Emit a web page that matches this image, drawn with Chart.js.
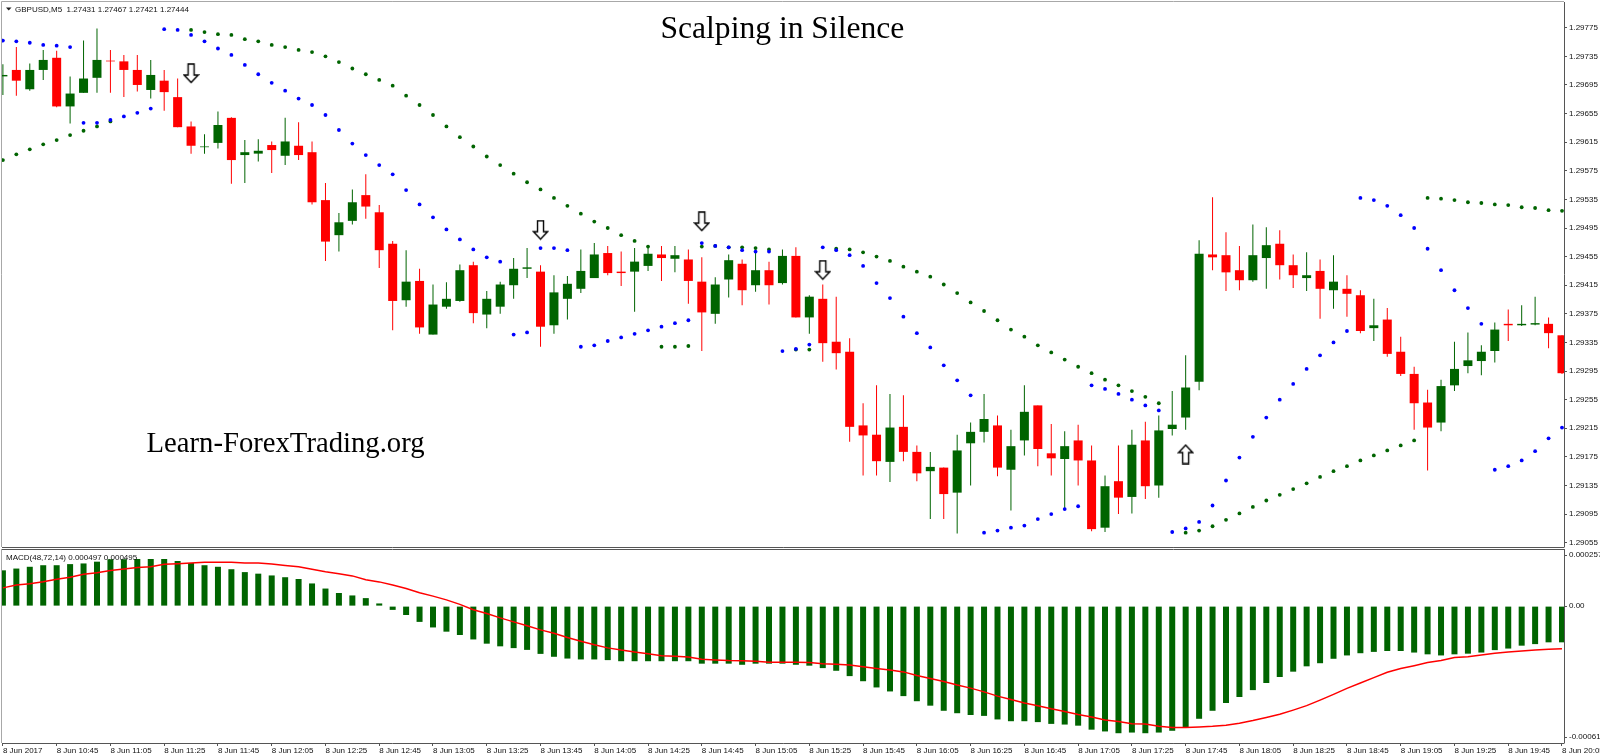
<!DOCTYPE html>
<html>
<head>
<meta charset="utf-8">
<title>Scalping in Silence</title>
<script src="https://cdn.jsdelivr.net/npm/chart.js@4/dist/chart.umd.min.js"></script>
<style>
html, body { margin: 0; padding: 0; background: #fff; overflow: hidden; }
canvas { position: absolute; left: 0; display: block; }
#priceChart { top: 0; }
#macdChart { top: 549px; }
</style>
</head>
<body>
<canvas id="priceChart" width="1600" height="549"></canvas>
<canvas id="macdChart" width="1600" height="204"></canvas>
<script>
// GBPUSD M5 candles, one entry per 5 minute bar
var opens = [
1.29707,1.29716,1.29689,1.29716,1.29733,1.29665,1.29684,1.29705,1.29729,1.29728,
1.29716,1.29688,1.29701,1.29678,1.29637,1.29608,1.29614,1.29649,1.29597,1.29599,
1.29611,1.29596,1.29610,1.29601,1.29534,1.29485,1.29505,1.29541,1.29517,1.29473,
1.29394,1.29421,1.29346,1.29385,1.29393,1.29443,1.29374,1.29385,1.29415,1.29438,
1.29434,1.29359,1.29396,1.29410,1.29425,1.29460,1.29434,1.29434,1.29442,1.29458,
1.29452,1.29451,1.29420,1.29375,1.29423,1.29445,1.29415,1.29436,1.29418,1.29456,
1.29370,1.29396,1.29336,1.29322,1.29219,1.29206,1.29168,1.29217,1.29182,1.29155,
1.29160,1.29125,1.29194,1.29210,1.29219,1.29157,1.29198,1.29247,1.29180,1.29172,
1.29198,1.29170,1.29076,1.29141,1.29119,1.29198,1.29135,1.29214,1.29230,1.29280,
1.29458,1.29457,1.29436,1.29422,1.29453,1.29473,1.29443,1.29425,1.29435,1.29408,
1.29410,1.29401,1.29355,1.29367,1.29322,1.29291,1.29251,1.29223,1.29275,1.29302,
1.29309,1.29323,1.29361,1.29359,1.29360,1.29361,1.29345];
var closes = [
1.29709,1.29701,1.29716,1.29730,1.29665,1.29683,1.29704,1.29730,1.29728,1.29716,
1.29695,1.29709,1.29685,1.29636,1.29610,1.29609,1.29639,1.29590,1.29601,1.29603,
1.29604,1.29616,1.29597,1.29531,1.29476,1.29503,1.29531,1.29525,1.29464,1.29393,
1.29420,1.29356,1.29388,1.29396,1.29436,1.29376,1.29396,1.29416,1.29438,1.29440,
1.29357,1.29405,1.29417,1.29435,1.29458,1.29432,1.29432,1.29448,1.29459,1.29453,
1.29457,1.29421,1.29377,1.29416,1.29450,1.29408,1.29436,1.29415,1.29456,1.29370,
1.29399,1.29334,1.29320,1.29217,1.29205,1.29169,1.29216,1.29182,1.29152,1.29161,
1.29123,1.29184,1.29210,1.29228,1.29160,1.29190,1.29238,1.29186,1.29173,1.29190,
1.29170,1.29074,1.29134,1.29118,1.29192,1.29134,1.29212,1.29220,1.29272,1.29459,
1.29454,1.29433,1.29422,1.29457,1.29471,1.29443,1.29429,1.29429,1.29410,1.29420,
1.29403,1.29351,1.29359,1.29319,1.29291,1.29250,1.29216,1.29274,1.29298,1.29310,
1.29322,1.29353,1.29359,1.29361,1.29362,1.29348,1.29292];
var highs = [
1.29724,1.29748,1.29725,1.29744,1.29743,1.29707,1.29757,1.29774,1.29744,1.29737,
1.29737,1.29730,1.29716,1.29704,1.29644,1.29626,1.29658,1.29650,1.29618,1.29619,
1.29616,1.29649,1.29643,1.29616,1.29558,1.29516,1.29549,1.29570,1.29527,1.29477,
1.29464,1.29438,1.29416,1.29419,1.29444,1.29448,1.29407,1.29420,1.29453,1.29467,
1.29443,1.29429,1.29428,1.29465,1.29474,1.29470,1.29462,1.29467,1.29471,1.29470,
1.29470,1.29465,1.29454,1.29426,1.29458,1.29451,1.29465,1.29448,1.29465,1.29468,
1.29401,1.29416,1.29399,1.29341,1.29250,1.29275,1.29263,1.29261,1.29191,1.29182,
1.29160,1.29206,1.29223,1.29263,1.29233,1.29213,1.29275,1.29247,1.29221,1.29211,
1.29220,1.29191,1.29149,1.29191,1.29213,1.29224,1.29233,1.29267,1.29317,1.29478,
1.29538,1.29489,1.29470,1.29500,1.29496,1.29492,1.29458,1.29461,1.29451,1.29457,
1.29429,1.29408,1.29396,1.29383,1.29343,1.29301,1.29269,1.29283,1.29336,1.29349,
1.29331,1.29363,1.29381,1.29387,1.29399,1.29370,1.29345];
var lows = [
1.29681,1.29680,1.29687,1.29702,1.29664,1.29641,1.29684,1.29684,1.29684,1.29678,
1.29686,1.29676,1.29659,1.29636,1.29599,1.29599,1.29606,1.29557,1.29558,1.29588,
1.29572,1.29583,1.29590,1.29528,1.29449,1.29462,1.29500,1.29508,1.29439,1.29352,
1.29385,1.29347,1.29346,1.29382,1.29392,1.29362,1.29355,1.29375,1.29396,1.29425,
1.29329,1.29347,1.29367,1.29404,1.29425,1.29429,1.29414,1.29378,1.29435,1.29421,
1.29433,1.29389,1.29323,1.29361,1.29398,1.29387,1.29406,1.29388,1.29416,1.29370,
1.29347,1.29308,1.29297,1.29196,1.29149,1.29149,1.29140,1.29169,1.29141,1.29088,
1.29088,1.29068,1.29135,1.29195,1.29148,1.29100,1.29177,1.29162,1.29149,1.29102,
1.29135,1.29071,1.29070,1.29095,1.29096,1.29116,1.29118,1.29205,1.29213,1.29268,
1.29436,1.29407,1.29408,1.29420,1.29410,1.29423,1.29411,1.29407,1.29368,1.29382,
1.29371,1.29348,1.29337,1.29315,1.29288,1.29213,1.29156,1.29211,1.29267,1.29292,
1.29289,1.29307,1.29337,1.29358,1.29359,1.29327,1.29291];

// indicator dots above / below price
var greenDots = [
1.29590,1.29598,1.29605,1.29612,1.29618,1.29625,1.29631,1.29637,1.29644,null,
null,null,null,null,1.29772,1.29769,1.29766,1.29765,1.29759,1.29756,
1.29751,1.29748,1.29744,1.29741,1.29735,1.29727,1.29718,1.29710,1.29702,1.29694,
1.29680,1.29667,1.29653,1.29637,1.29622,1.29609,1.29595,1.29583,1.29571,1.29559,
1.29549,1.29537,1.29526,1.29515,1.29504,1.29495,1.29485,1.29477,1.29469,1.29329,
1.29329,1.29330,1.29469,1.29470,1.29468,1.29468,1.29467,1.29465,null,1.29325,
1.29325,null,1.29466,1.29465,1.29461,1.29455,1.29449,1.29441,1.29434,1.29427,
1.29416,1.29404,1.29391,1.29379,1.29366,1.29353,1.29343,1.29331,1.29321,1.29311,
1.29301,1.29292,1.29283,1.29275,1.29267,1.29259,1.29250,null,1.29069,1.29072,
1.29078,1.29087,1.29096,1.29105,1.29114,1.29122,1.29130,1.29138,1.29147,1.29155,
1.29162,1.29170,1.29177,1.29184,1.29191,1.29198,1.29537,1.29536,1.29534,1.29531,
1.29530,1.29528,1.29527,1.29524,1.29523,1.29520,1.29519];
var blueDots = [
1.29757,1.29756,1.29754,1.29751,1.29750,1.29748,1.29642,1.29642,1.29646,1.29651,
1.29656,1.29662,1.29773,1.29772,1.29765,1.29756,1.29746,1.29737,1.29723,1.29710,
1.29698,1.29687,1.29676,1.29667,1.29653,1.29632,1.29613,1.29597,1.29583,1.29570,
1.29548,1.29528,1.29510,1.29493,1.29479,1.29465,1.29454,1.29448,1.29346,1.29349,
1.29467,1.29467,1.29464,1.29329,1.29331,1.29337,1.29342,1.29347,1.29352,1.29357,
1.29362,1.29366,1.29474,1.29470,1.29468,1.29464,1.29462,1.29462,1.29323,1.29326,
1.29332,1.29468,1.29464,1.29457,1.29442,1.29418,1.29397,1.29371,1.29348,1.29328,
1.29303,1.29282,1.29261,1.29069,1.29072,1.29076,1.29079,1.29088,1.29095,1.29102,
1.29106,1.29275,1.29270,1.29263,1.29255,1.29247,1.29240,1.29070,1.29075,1.29084,
1.29107,1.29142,1.29174,1.29203,1.29230,1.29255,1.29277,1.29298,1.29317,1.29335,
1.29351,1.29537,1.29534,1.29526,1.29513,1.29495,1.29466,1.29436,1.29408,1.29383,
1.29361,1.29157,1.29162,1.29170,1.29183,1.29201,1.29216];

// hollow signal arrows: bar index and price
var downArrowBars = [14, 40, 52, 61];
var downArrowPrices = [1.29711, 1.29492, 1.29504, 1.29436];
var upArrowBars = [88];
var upArrowPrices = [1.29179];

// MACD(48,72,14) in millionths
var macdBars = [
161,169,177,184,184,189,192,200,211,211,
212,212,212,203,194,184,177,166,153,146,
138,130,122,102,79,59,48,36,12,-17,
-40,-71,-96,-115,-130,-150,-169,-181,-189,-197,
-215,-228,-236,-240,-240,-243,-248,-248,-248,-248,
-248,-248,-259,-259,-259,-264,-259,-259,-259,-264,
-268,-279,-291,-315,-338,-366,-384,-405,-428,-448,
-471,-482,-490,-494,-510,-518,-518,-522,-530,-533,
-538,-556,-564,-572,-569,-572,-569,-561,-546,-507,
-471,-436,-409,-378,-346,-319,-295,-271,-257,-237,
-222,-212,-206,-202,-202,-209,-217,-222,-217,-214,
-209,-198,-191,-178,-171,-163,-163];
var macdSignal = [
82,95,101,110,121,130,143,150,160,167,
174,177,188,191,194,197,197,197,194,194,
189,183,177,166,155,146,136,119,109,95,
79,60,45,28,8,-16,-33,-53,-71,-88,
-107,-122,-141,-158,-174,-188,-198,-206,-214,-223,
-226,-229,-239,-242,-245,-246,-248,-253,-253,-253,
-254,-259,-262,-265,-273,-281,-288,-296,-312,-326,
-339,-355,-369,-386,-405,-420,-436,-448,-462,-474,
-488,-499,-512,-519,-529,-530,-541,-546,-546,-544,
-541,-536,-527,-515,-501,-487,-468,-448,-423,-397,
-370,-346,-322,-298,-281,-268,-254,-245,-231,-228,
-220,-212,-206,-202,-197,-194,-192];

// axis labels
var priceTicks = [1.29775,1.29735,1.29695,1.29655,1.29615,1.29575,1.29535,1.29495,1.29455,
    1.29415,1.29375,1.29335,1.29295,1.29255,1.29215,1.29175,1.29135,1.29095,1.29055];
var macdTickValues = [230, 0, -589];
var macdTickLabels = ['0.000257', '0.00', '-0.000616'];
var timeLabels = ['8 Jun 2017','8 Jun 10:45','8 Jun 11:05','8 Jun 11:25','8 Jun 11:45','8 Jun 12:05',
    '8 Jun 12:25','8 Jun 12:45','8 Jun 13:05','8 Jun 13:25','8 Jun 13:45','8 Jun 14:05','8 Jun 14:25',
    '8 Jun 14:45','8 Jun 15:05','8 Jun 15:25','8 Jun 15:45','8 Jun 16:05','8 Jun 16:25','8 Jun 16:45',
    '8 Jun 17:05','8 Jun 17:25','8 Jun 17:45','8 Jun 18:05','8 Jun 18:25','8 Jun 18:45','8 Jun 19:05',
    '8 Jun 19:25','8 Jun 19:45','8 Jun 20:05'];
var barsPerLabel = 4;

var RED = '#ff0000';
var GREEN = '#006400';
var BLUE = '#0000ff';
var AXIS = '#555555';
var TEXT = '#111111';
var TICK_FONT = { family: 'Liberation Sans', size: 8 };
var X_MIN = -0.067;
var X_MAX = 116.149;

function toPoints(values) {
    var out = [];
    for (var i = 0; i < values.length; i++) {
        if (values[i] !== null) out.push({ x: i, y: values[i] });
    }
    return out;
}

function candleColors() {
    return opens.map(function(o, i) { return closes[i] >= o ? GREEN : RED; });
}

function makeArrow(up) {
    var c = document.createElement('canvas');
    c.width = 17;
    c.height = 21;
    var g = c.getContext('2d');
    g.translate(0, up ? 21 : 0);
    g.scale(1, up ? -1 : 1);
    g.beginPath();
    g.moveTo(5.5, 1);
    g.lineTo(11.5, 1);
    g.lineTo(11.5, 12);
    g.lineTo(15.5, 12);
    g.lineTo(8.5, 19.5);
    g.lineTo(1.5, 12);
    g.lineTo(5.5, 12);
    g.closePath();
    g.fillStyle = '#fff';
    g.fill();
    g.lineWidth = 1.4;
    g.strokeStyle = '#000';
    g.stroke();
    return c;
}

// no room kept for half a label at the ends of an axis
function fixY(scale) {
    scale.width = 36;
    scale.paddingTop = 0;
    scale.paddingBottom = 0;
}
function fixX(scale) {
    scale.height = 10;
    scale.paddingLeft = 0;
    scale.paddingRight = 0;
}

// gray frame around the plot, the way the terminal draws it
var framePlugin = {
    id: 'frame',
    afterDraw: function(chart, args, opts) {
        var a = chart.chartArea, ctx = chart.ctx;
        ctx.save();
        ctx.lineWidth = 1;
        ctx.strokeStyle = opts.light;
        ctx.beginPath();
        ctx.moveTo(a.left - 0.5, a.bottom);
        ctx.lineTo(a.left - 0.5, a.top - 0.5);
        if (opts.lightTop) ctx.lineTo(a.right, a.top - 0.5);
        ctx.stroke();
        ctx.strokeStyle = AXIS;
        ctx.beginPath();
        if (!opts.lightTop) { ctx.moveTo(a.left, a.top + 0.5); ctx.lineTo(a.right, a.top + 0.5); }
        ctx.moveTo(a.left, a.bottom + 0.5);
        ctx.lineTo(a.right + 0.5, a.bottom + 0.5);
        ctx.moveTo(a.right + 0.5, a.top);
        ctx.lineTo(a.right + 0.5, a.bottom);
        ctx.stroke();
        ctx.restore();
    }
};

// captions sitting on the chart
var captionPlugin = {
    id: 'captions',
    afterDraw: function(chart, args, opts) {
        var ctx = chart.ctx;
        ctx.save();
        opts.items.forEach(function(t) {
            ctx.font = t.font;
            ctx.fillStyle = t.color;
            ctx.textAlign = t.align || 'left';
            ctx.textBaseline = 'alphabetic';
            ctx.fillText(t.text, t.x, t.y);
        });
        if (opts.marker) {
            ctx.fillStyle = '#222';
            ctx.beginPath();
            ctx.moveTo(6, 7.5);
            ctx.lineTo(11.5, 7.5);
            ctx.lineTo(8.7, 10.5);
            ctx.closePath();
            ctx.fill();
        }
        ctx.restore();
    }
};

var wickData = lows.map(function(l, i) { return { x: i, y: [l, highs[i]] }; });
var bodyData = opens.map(function(o, i) { return { x: i, y: [o, closes[i]] }; });

new Chart(document.getElementById('priceChart'), {
    type: 'bar',
    plugins: [framePlugin, captionPlugin],
    data: {
        datasets: [
            { data: bodyData, backgroundColor: candleColors(), barThickness: 9, grouped: false, inflateAmount: 0, order: 3 },
            { data: wickData, backgroundColor: candleColors(), barThickness: 1, grouped: false, inflateAmount: 0, order: 4 },
            { type: 'line', data: toPoints(greenDots), showLine: false, pointRadius: 1.9, pointBackgroundColor: GREEN, pointBorderWidth: 0, order: 2 },
            { type: 'line', data: toPoints(blueDots), showLine: false, pointRadius: 1.9, pointBackgroundColor: BLUE, pointBorderWidth: 0, order: 1 },
            { type: 'line', data: toPoints(downArrowPrices).map(function(p, i) { return { x: downArrowBars[i], y: p.y }; }),
              showLine: false, pointStyle: makeArrow(false), order: 0 },
            { type: 'line', data: toPoints(upArrowPrices).map(function(p, i) { return { x: upArrowBars[i], y: p.y }; }),
              showLine: false, pointStyle: makeArrow(true), order: 0 }
        ]
    },
    options: {
        responsive: false,
        animation: false,
        events: [],
        layout: { autoPadding: false, padding: { left: 2, top: 2, bottom: 2, right: 0 } },
        plugins: {
            legend: { display: false },
            tooltip: { enabled: false },
            frame: { light: '#a8a8a8', lightTop: true },
            captions: {
                marker: true,
                items: [
                    { text: 'GBPUSD,M5  1.27431 1.27467 1.27421 1.27444', x: 15, y: 12, font: '8px "Liberation Sans"', color: TEXT },
                    { text: 'Scalping in Silence', x: 782.4, y: 38, font: '31.6px "Liberation Serif"', color: '#000', align: 'center' },
                    { text: 'Learn-ForexTrading.org', x: 146.5, y: 452, font: '28.7px "Liberation Serif"', color: '#000' }
                ]
            }
        },
        scales: {
            x: { type: 'linear', min: X_MIN, max: X_MAX, display: false, offset: false, grid: { offset: false } },
            y: {
                position: 'right',
                min: 1.29049,
                max: 1.29811,
                afterBuildTicks: function(scale) {
                    scale.ticks = priceTicks.map(function(v) { return { value: v }; });
                },
                afterFit: fixY,
                ticks: {
                    autoSkip: false,
                    font: TICK_FONT,
                    color: TEXT,
                    padding: 2,
                    callback: function(v) { return v.toFixed(5); }
                },
                grid: { drawOnChartArea: false, color: AXIS, tickLength: 3 },
                border: { display: false }
            }
        }
    }
});

new Chart(document.getElementById('macdChart'), {
    type: 'bar',
    plugins: [framePlugin, captionPlugin],
    data: {
        datasets: [
            { type: 'line', data: toPoints(macdSignal), borderColor: RED, borderWidth: 1.5, pointRadius: 0, tension: 0, order: 1 },
            { data: toPoints(macdBars), backgroundColor: GREEN, barThickness: 6, inflateAmount: 0, order: 2 }
        ]
    },
    options: {
        responsive: false,
        animation: false,
        events: [],
        layout: { autoPadding: false, padding: { left: 2, top: 0, bottom: 0, right: 0 } },
        plugins: {
            legend: { display: false },
            tooltip: { enabled: false },
            frame: { light: '#a8a8a8', lightTop: false },
            captions: {
                items: [
                    { text: 'MACD(48,72,14) 0.000497 0.000495', x: 6, y: 11, font: '8px "Liberation Sans"', color: TEXT }
                ]
            }
        },
        scales: {
            x: {
                type: 'linear',
                position: 'bottom',
                min: X_MIN,
                max: X_MAX,
                offset: false,
                afterBuildTicks: function(scale) {
                    scale.ticks = timeLabels.map(function(t, i) { return { value: i * barsPerLabel }; });
                },
                afterFit: fixX,
                ticks: {
                    autoSkip: false,
                    maxRotation: 0,
                    align: 'start',
                    font: TICK_FONT,
                    color: TEXT,
                    padding: 0,
                    callback: function(v) { return timeLabels[v / barsPerLabel]; }
                },
                grid: { offset: false, drawOnChartArea: false, color: AXIS, tickLength: 3 },
                border: { display: false }
            },
            y: {
                position: 'right',
                min: -616,
                max: 257,
                afterBuildTicks: function(scale) {
                    scale.ticks = macdTickValues.map(function(v) { return { value: v }; });
                },
                afterFit: fixY,
                ticks: {
                    autoSkip: false,
                    font: TICK_FONT,
                    color: TEXT,
                    padding: 2,
                    callback: function(v, i) { return macdTickLabels[i]; }
                },
                grid: { drawOnChartArea: false, color: AXIS, tickLength: 3 },
                border: { display: false }
            }
        }
    }
});
</script>
</body>
</html>
